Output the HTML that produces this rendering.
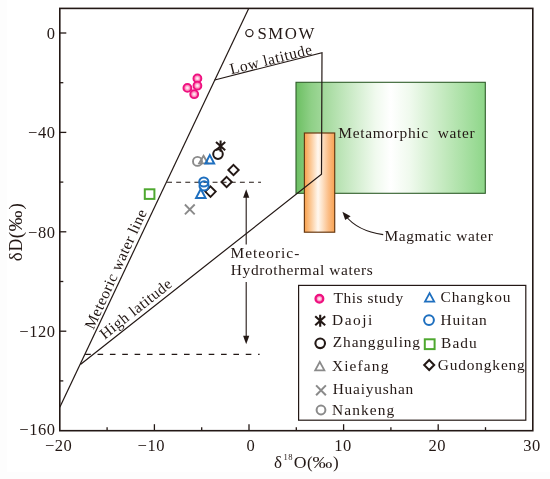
<!DOCTYPE html>
<html><head><meta charset="utf-8"><title>δD–δ18O diagram</title>
<style>
html,body{margin:0;padding:0;background:#fff;}
body{width:550px;height:479px;overflow:hidden;}
svg{display:block;}
text{font-family:"Liberation Serif","Times New Roman",serif;fill:#231815;}
</style></head><body>
<svg width="550" height="479" viewBox="0 0 550 479">
<defs>
<linearGradient id="gg" x1="0" y1="0" x2="1" y2="0">
<stop offset="0" stop-color="#6cbf62"/>
<stop offset="0.08" stop-color="#8fd087"/>
<stop offset="0.25" stop-color="#c0e6bb"/>
<stop offset="0.42" stop-color="#f0faee"/>
<stop offset="0.5" stop-color="#ffffff"/>
<stop offset="0.6" stop-color="#f0faee"/>
<stop offset="0.8" stop-color="#bfe8ba"/>
<stop offset="1" stop-color="#8ed689"/>
</linearGradient>
<linearGradient id="og" x1="0" y1="0" x2="1" y2="0">
<stop offset="0" stop-color="#f8a04b"/>
<stop offset="0.25" stop-color="#fcd0a4"/>
<stop offset="0.45" stop-color="#fff8f0"/>
<stop offset="0.6" stop-color="#fde0c4"/>
<stop offset="0.8" stop-color="#fbbc84"/>
<stop offset="1" stop-color="#f8a352"/>
</linearGradient>
<radialGradient id="pg" cx="0.5" cy="0.5" r="0.5">
<stop offset="0" stop-color="#fff0f6"/>
<stop offset="0.25" stop-color="#ffd6e8"/>
<stop offset="0.75" stop-color="#fb6aa8"/>
<stop offset="1" stop-color="#ee1180"/>
</radialGradient>
</defs>
<rect x="0" y="0" width="550" height="479" fill="#ffffff"/>
<rect x="0" y="0" width="7" height="479" fill="#fdfdfd"/>
<rect x="0" y="472" width="550" height="7" fill="#fdfdfd"/>

<rect x="296" y="82.3" width="189.3" height="111.0" fill="url(#gg)" stroke="#2f5d2a" stroke-width="1.1"/>
<rect x="304.4" y="133" width="30.3" height="99.2" fill="url(#og)" stroke="#6a3a12" stroke-width="1.2"/>
<g fill="none" stroke="#231815" stroke-width="1.2" stroke-linejoin="miter">
<path d="M248.7 8.4 L59.8 407.2"/>
<path d="M214.7 80 L322 52.7 L321.5 174.2 L80.4 364.5"/>
</g>
<g fill="none" stroke="#231815" stroke-width="1.15">
<path d="M167.1 182.2 H261" stroke-dasharray="4.9 4.2"/>
<path d="M85.2 354.4 H259.6" stroke-dasharray="5.6 6.75"/>
</g>
<g stroke="#231815" stroke-width="1.1" fill="#231815">
<path d="M246.2 196 V244.5" fill="none"/>
<path d="M246.2 189.3 L249.3 197.8 L243.1 197.8 Z" stroke="none"/>
<path d="M246.2 282 V337" fill="none"/>
<path d="M246.2 344.2 L249.3 335.7 L243.1 335.7 Z" stroke="none"/>
<path d="M383.2 234.6 Q357 231 345 215" fill="none"/>
<path d="M342.4 211.7 L350.6 216.3 L345.2 219.9 Z" stroke="none"/>
</g>
<rect x="59.8" y="8.4" width="473.0" height="422.3" fill="none" stroke="#231815" stroke-width="1.6"/>
<g stroke="#231815" stroke-width="1.3" fill="none">
<path d="M59.8 33.0 h6.5"/>
<path d="M59.8 82.7 h3.5"/>
<path d="M59.8 132.4 h6.5"/>
<path d="M59.8 182.1 h3.5"/>
<path d="M59.8 231.8 h6.5"/>
<path d="M59.8 281.5 h3.5"/>
<path d="M59.8 331.2 h6.5"/>
<path d="M59.8 380.9 h3.5"/>
<path d="M107.1 430.7 v-3.5"/>
<path d="M154.4 430.7 v-6.5"/>
<path d="M201.7 430.7 v-3.5"/>
<path d="M249.0 430.7 v-6.5"/>
<path d="M296.3 430.7 v-3.5"/>
<path d="M343.6 430.7 v-6.5"/>
<path d="M390.9 430.7 v-3.5"/>
<path d="M438.2 430.7 v-6.5"/>
<path d="M485.5 430.7 v-3.5"/>
</g>
<g font-size="16.5px" letter-spacing="0.5">
<text x="55.4" y="38.9" text-anchor="end">0</text>
<text x="55.4" y="138.3" text-anchor="end">−40</text>
<text x="55.4" y="237.7" text-anchor="end">−80</text>
<text x="55.4" y="337.1" text-anchor="end">−120</text>
<text x="55.4" y="434.7" text-anchor="end">−160</text>
<text x="58.65" y="451" text-anchor="middle">−20</text>
<text x="151.25" y="451" text-anchor="middle">−10</text>
<text x="250.85" y="451" text-anchor="middle">0</text>
<text x="343.10" y="451" text-anchor="middle">10</text>
<text x="437.15" y="451" text-anchor="middle">20</text>
<text x="532.05" y="451" text-anchor="middle">30</text>
</g>
<g font-size="17px"><text x="274" y="467.6">δ</text><text x="283.4" y="459.8" font-size="8.6px" letter-spacing="0.5">18</text><text x="293.8" y="467.6" textLength="12.8" lengthAdjust="spacingAndGlyphs">O</text><text x="307" y="467.6">(</text><text x="312.4" y="467.6" textLength="19.8" lengthAdjust="spacingAndGlyphs">‰</text><text x="333" y="467.6">)</text></g>
<g transform="translate(22.2 263) rotate(-90)" font-size="19px"><text x="1.8" y="0" textLength="9" lengthAdjust="spacingAndGlyphs">δ</text><text x="11.4" y="0" textLength="12.8" lengthAdjust="spacingAndGlyphs">D</text><text x="24.8" y="0">(</text><text x="31.6" y="0" textLength="21" lengthAdjust="spacingAndGlyphs">‰</text><text x="53.5" y="0">)</text></g>
<text x="257.50" y="39.3" font-size="16.8px" textLength="56.76" lengthAdjust="spacing" xml:space="preserve">SMOW</text>
<text x="338.34" y="137.7" font-size="15.4px" textLength="136.38" lengthAdjust="spacing" xml:space="preserve">Metamorphic  water</text>
<text x="384.48" y="240.8" font-size="15.4px" textLength="108.46" lengthAdjust="spacing" xml:space="preserve">Magmatic water</text>
<text x="230.52" y="258.0" font-size="15.4px" textLength="68.84" lengthAdjust="spacing" xml:space="preserve">Meteoric-</text>
<text x="230.84" y="275.2" font-size="15.4px" textLength="141.82" lengthAdjust="spacing" xml:space="preserve">Hydrothermal waters</text>
<text transform="translate(93.5 330.3) rotate(-65.6)" font-size="15.4px" textLength="129.5" lengthAdjust="spacing" xml:space="preserve">Meteoric water line</text>
<text transform="translate(104.7 339.8) rotate(-38.3)" font-size="15.4px" textLength="87" lengthAdjust="spacing" xml:space="preserve">High latitude</text>
<text transform="translate(231.3 74.3) rotate(-14)" font-size="15.4px" textLength="84" lengthAdjust="spacing" xml:space="preserve">Low latitude</text>
<circle cx="249.4" cy="33.1" r="3.6" fill="none" stroke="#231815" stroke-width="1.2"/>
<circle cx="197.4" cy="78.4" r="4" fill="url(#pg)" stroke="#ee1180" stroke-width="1.8"/>
<circle cx="187.4" cy="87.9" r="4" fill="url(#pg)" stroke="#ee1180" stroke-width="1.8"/>
<circle cx="197.4" cy="85.7" r="4" fill="url(#pg)" stroke="#ee1180" stroke-width="1.8"/>
<circle cx="194.2" cy="94.2" r="4" fill="url(#pg)" stroke="#ee1180" stroke-width="1.8"/>
<rect x="144.79999999999998" y="189.29999999999998" width="9.6" height="9.6" fill="none" stroke="#4ea82f" stroke-width="2.0"/>
<path d="M184.9 204.5 L194.70000000000002 214.3 M194.70000000000002 204.5 L184.9 214.3" fill="none" stroke="#8a8a8a" stroke-width="1.9"/>
<circle cx="197.5" cy="161.4" r="4.5" fill="none" stroke="#8a8a8a" stroke-width="1.9"/>
<path d="M203.5 155.8 L207.85 163.4 L199.15 163.4 Z" fill="none" stroke="#8a8a8a" stroke-width="1.9" stroke-linejoin="miter"/>
<path d="M209.8 155.1 L214.15 163.5 L205.45000000000002 163.5 Z" fill="none" stroke="#1e6fbf" stroke-width="2" stroke-linejoin="miter"/>
<path d="M220.6 140.50 V151.70 M216.00 141.90 L225.20 150.30 M225.20 141.90 L216.00 150.30" fill="none" stroke="#231815" stroke-width="2.0"/>
<circle cx="218" cy="154.1" r="4.8" fill="none" stroke="#231815" stroke-width="2"/>
<path d="M233.5 164.8 L238.7 170 L233.5 175.2 L228.3 170 Z" fill="none" stroke="#231815" stroke-width="1.9"/>
<path d="M226.6 176.8 L231.79999999999998 182 L226.6 187.2 L221.4 182 Z" fill="none" stroke="#231815" stroke-width="1.9"/>
<path d="M210.5 186.4 L215.7 191.6 L210.5 196.79999999999998 L205.3 191.6 Z" fill="none" stroke="#231815" stroke-width="1.9"/>
<circle cx="203.8" cy="182" r="4.6" fill="none" stroke="#1e6fbf" stroke-width="2"/>
<circle cx="204.1" cy="185.9" r="4.6" fill="none" stroke="#1e6fbf" stroke-width="2"/>
<path d="M200.8 189 L205.5 197.9 L196.10000000000002 197.9 Z" fill="none" stroke="#1e6fbf" stroke-width="2" stroke-linejoin="miter"/>
<rect x="298.6" y="285.4" width="227.2" height="134.8" fill="#fff" stroke="#231815" stroke-width="1.2"/>
<circle cx="319.4" cy="298.7" r="3.9" fill="url(#pg)" stroke="#ee1180" stroke-width="2.2"/>
<text x="333.50" y="303.3" font-size="15.4px" textLength="69.58" lengthAdjust="spacing" xml:space="preserve">This study</text>
<path d="M320.2 314.75 V326.85 M315.23 316.26 L325.17 325.34 M325.17 316.26 L315.23 325.34" fill="none" stroke="#231815" stroke-width="2.1"/>
<text x="332.04" y="325.0" font-size="15.4px" textLength="40.20" lengthAdjust="spacing" xml:space="preserve">Daoji</text>
<circle cx="320.2" cy="343.3" r="4.8" fill="none" stroke="#231815" stroke-width="2.1"/>
<text x="332.84" y="347.0" font-size="15.4px" textLength="87.18" lengthAdjust="spacing" xml:space="preserve">Zhangguling</text>
<path d="M319.8 361.8 L324.40000000000003 370.4 L315.2 370.4 Z" fill="none" stroke="#8a8a8a" stroke-width="1.8" stroke-linejoin="miter"/>
<text x="331.90" y="370.9" font-size="15.4px" textLength="56.48" lengthAdjust="spacing" xml:space="preserve">Xiefang</text>
<path d="M316.1 385.40000000000003 L325.9 395.2 M325.9 385.40000000000003 L316.1 395.2" fill="none" stroke="#8a8a8a" stroke-width="2"/>
<text x="332.70" y="394.1" font-size="15.4px" textLength="80.60" lengthAdjust="spacing" xml:space="preserve">Huaiyushan</text>
<circle cx="321" cy="410" r="4.4" fill="none" stroke="#8a8a8a" stroke-width="2"/>
<text x="331.90" y="414.9" font-size="15.4px" textLength="62.40" lengthAdjust="spacing" xml:space="preserve">Nankeng</text>
<path d="M429.6 293.1 L434.20000000000005 301.7 L425.0 301.7 Z" fill="none" stroke="#1e6fbf" stroke-width="1.8" stroke-linejoin="miter"/>
<text x="440.48" y="302.4" font-size="15.4px" textLength="70.04" lengthAdjust="spacing" xml:space="preserve">Changkou</text>
<circle cx="429" cy="320.1" r="4.9" fill="none" stroke="#1e6fbf" stroke-width="2"/>
<text x="440.48" y="324.5" font-size="15.4px" textLength="46.32" lengthAdjust="spacing" xml:space="preserve">Huitan</text>
<rect x="424.8" y="339.3" width="9.8" height="9.8" fill="none" stroke="#4ea82f" stroke-width="2.0"/>
<text x="441.12" y="348.4" font-size="15.4px" textLength="35.68" lengthAdjust="spacing" xml:space="preserve">Badu</text>
<path d="M429.2 360.0 L434.2 365 L429.2 370.0 L424.2 365 Z" fill="none" stroke="#231815" stroke-width="2"/>
<text x="437.76" y="369.5" font-size="15.4px" textLength="87.04" lengthAdjust="spacing" xml:space="preserve">Gudongkeng</text>
</svg></body></html>
